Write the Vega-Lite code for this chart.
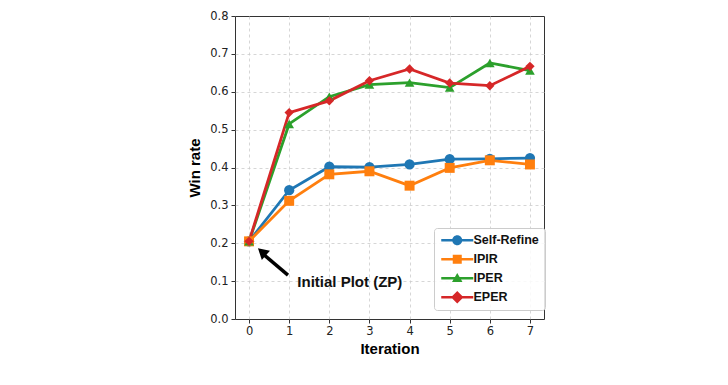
{
  "$schema": "https://vega.github.io/schema/vega-lite/v6.json",
  "autosize": {"type": "none"},
  "padding": {"left": 235, "top": 16, "right": 184, "bottom": 66},
  "width": 309,
  "height": 303,
  "background": "white",
  "config": {
    "view": {"stroke": "#333333", "strokeWidth": 1},
    "axis": {
      "domain": false,
      "grid": true,
      "gridDash": [3, 3],
      "gridColor": "#cccccc",
      "gridWidth": 0.8,
      "tickColor": "#333333",
      "tickSize": 4,
      "labelOverlap": false,
      "labelFont": "DejaVu Sans",
      "labelFontSize": 11.5,
      "labelColor": "#222222",
      "titleFont": "Liberation Sans",
      "titleFontSize": 15,
      "titleFontWeight": "bold",
      "titleColor": "#000000"
    },
    "legend": {
      "title": null,
      "orient": "none",
      "legendX": 199,
      "legendY": 212,
      "padding": 6,
      "symbolSize": 100,
      "symbolOffset": 11,
      "labelOffset": 10,
      "rowPadding": 6,
      "labelFont": "Liberation Sans",
      "labelFontWeight": "bold",
      "labelFontSize": 12.5,
      "labelColor": "#111111",
      "strokeColor": "#cccccc",
      "fillColor": "rgba(255,255,255,0.85)",
      "cornerRadius": 3,
      "symbolStrokeWidth": 0
    }
  },
  "datasets": {
    "series": [
      {"series": "Self-Refine", "iteration": 0, "win": 0.205},
      {"series": "Self-Refine", "iteration": 1, "win": 0.340},
      {"series": "Self-Refine", "iteration": 2, "win": 0.402},
      {"series": "Self-Refine", "iteration": 3, "win": 0.401},
      {"series": "Self-Refine", "iteration": 4, "win": 0.408},
      {"series": "Self-Refine", "iteration": 5, "win": 0.422},
      {"series": "Self-Refine", "iteration": 6, "win": 0.423},
      {"series": "Self-Refine", "iteration": 7, "win": 0.425},
      {"series": "IPIR", "iteration": 0, "win": 0.205},
      {"series": "IPIR", "iteration": 1, "win": 0.312},
      {"series": "IPIR", "iteration": 2, "win": 0.382},
      {"series": "IPIR", "iteration": 3, "win": 0.390},
      {"series": "IPIR", "iteration": 4, "win": 0.352},
      {"series": "IPIR", "iteration": 5, "win": 0.399},
      {"series": "IPIR", "iteration": 6, "win": 0.419},
      {"series": "IPIR", "iteration": 7, "win": 0.408},
      {"series": "IPER", "iteration": 0, "win": 0.205},
      {"series": "IPER", "iteration": 1, "win": 0.515},
      {"series": "IPER", "iteration": 2, "win": 0.587},
      {"series": "IPER", "iteration": 3, "win": 0.619},
      {"series": "IPER", "iteration": 4, "win": 0.624},
      {"series": "IPER", "iteration": 5, "win": 0.611},
      {"series": "IPER", "iteration": 6, "win": 0.676},
      {"series": "IPER", "iteration": 7, "win": 0.656},
      {"series": "EPER", "iteration": 0, "win": 0.205},
      {"series": "EPER", "iteration": 1, "win": 0.545},
      {"series": "EPER", "iteration": 2, "win": 0.576},
      {"series": "EPER", "iteration": 3, "win": 0.629},
      {"series": "EPER", "iteration": 4, "win": 0.660},
      {"series": "EPER", "iteration": 5, "win": 0.623},
      {"series": "EPER", "iteration": 6, "win": 0.616},
      {"series": "EPER", "iteration": 7, "win": 0.667}
    ]
  },
  "resolve": {"scale": {"shape": "independent", "size": "independent", "color": "independent"}},
  "layer": [
    {
      "data": {"name": "series"},
      "mark": {"type": "line", "strokeWidth": 2.8},
      "encoding": {
        "x": {"field": "iteration", "type": "quantitative",
              "scale": {"domain": [-0.35, 7.35], "nice": false, "zero": false},
              "axis": {"values": [0, 1, 2, 3, 4, 5, 6, 7], "format": "d", "title": "Iteration", "labelPadding": 2, "titlePadding": 5, "labelOverlap": false}},
        "y": {"field": "win", "type": "quantitative",
              "scale": {"domain": [0, 0.8], "nice": false, "zero": false},
              "axis": {"values": [0, 0.1, 0.2, 0.3, 0.4, 0.5, 0.6, 0.7, 0.8], "format": ".1f", "title": "Win rate", "labelPadding": 3, "titlePadding": 7, "labelOverlap": false,
                       "gridOpacity": {"condition": {"test": "datum.value <= 0.001 || datum.value >= 0.799", "value": 0}, "value": 1}}},
        "color": {"field": "series", "type": "nominal",
                  "scale": {"domain": ["Self-Refine", "IPIR", "IPER", "EPER"], "range": ["#1f77b4", "#ff7f0e", "#2ca02c", "#d62728"]},
                  "legend": null},
        "detail": {"field": "series"}
      }
    },
    {
      "data": {"name": "series"},
      "mark": {"type": "point", "filled": true, "opacity": 1},
      "encoding": {
        "x": {"field": "iteration", "type": "quantitative",
              "axis": {"values": [0, 1, 2, 3, 4, 5, 6, 7], "format": "d", "title": "Iteration", "labelPadding": 2, "titlePadding": 5, "labelOverlap": false}},
        "y": {"field": "win", "type": "quantitative",
              "axis": {"values": [0, 0.1, 0.2, 0.3, 0.4, 0.5, 0.6, 0.7, 0.8], "format": ".1f", "title": "Win rate", "labelPadding": 3, "titlePadding": 7, "labelOverlap": false,
                       "gridOpacity": {"condition": {"test": "datum.value <= 0.001 || datum.value >= 0.799", "value": 0}, "value": 1}}},
        "color": {"field": "series", "type": "nominal",
                  "scale": {"domain": ["Self-Refine", "IPIR", "IPER", "EPER"], "range": ["#1f77b4", "#ff7f0e", "#2ca02c", "#d62728"]},
                  "legend": null},
        "shape": {"field": "series", "type": "nominal",
                  "scale": {"domain": ["Self-Refine", "IPIR", "IPER", "EPER"], "range": ["circle", "square", "triangle-up", "diamond"]},
                  "legend": null},
        "size": {"field": "series", "type": "ordinal",
                 "scale": {"domain": ["Self-Refine", "IPIR", "IPER", "EPER"], "range": [105, 88, 125, 155]},
                 "legend": null}
      }
    },
    {
      "data": {"name": "series"},
      "mark": {"type": "point", "filled": true, "clip": true, "size": 100, "opacity": 1},
      "encoding": {
        "x": {"field": "iteration", "type": "quantitative",
              "axis": {"values": [0, 1, 2, 3, 4, 5, 6, 7], "format": "d", "title": "Iteration", "labelPadding": 2, "titlePadding": 5, "labelOverlap": false}},
        "y": {"datum": -1, "type": "quantitative",
              "axis": {"values": [0, 0.1, 0.2, 0.3, 0.4, 0.5, 0.6, 0.7, 0.8], "format": ".1f", "title": "Win rate", "labelPadding": 3, "titlePadding": 7, "labelOverlap": false,
                       "gridOpacity": {"condition": {"test": "datum.value <= 0.001 || datum.value >= 0.799", "value": 0}, "value": 1}}},
        "color": {"field": "series", "type": "nominal",
                  "scale": {"domain": ["Self-Refine", "IPIR", "IPER", "EPER"], "range": ["#1f77b4", "#ff7f0e", "#2ca02c", "#d62728"]},
                  "legend": {"title": null}},
        "shape": {"field": "series", "type": "nominal",
                  "scale": {"domain": ["Self-Refine", "IPIR", "IPER", "EPER"],
                            "range": [
                              "M-3.2,-0.27H3.2V0.27H-3.2Z M-1,0A1,1,0,1,1,1,0A1,1,0,1,1,-1,0Z",
                              "M-3.2,-0.27H3.2V0.27H-3.2Z M-0.9,-0.9H0.9V0.9H-0.9Z",
                              "M-3.2,-0.27H3.2V0.27H-3.2Z M0,-1.05L1.05,0.75L-1.05,0.75Z",
                              "M-3.2,-0.27H3.2V0.27H-3.2Z M0,-1.25L1.25,0L0,1.25L-1.25,0Z"
                            ]},
                  "legend": {"title": null}}
      }
    },
    {
      "data": {"values": [{"x": 0.97, "y": 0.116, "x2": 0.30, "y2": 0.176}]},
      "mark": {"type": "rule", "color": "black", "strokeWidth": 3.5},
      "encoding": {
        "x": {"field": "x", "type": "quantitative",
              "axis": {"values": [0, 1, 2, 3, 4, 5, 6, 7], "format": "d", "title": "Iteration", "labelPadding": 2, "titlePadding": 5, "labelOverlap": false}},
        "y": {"field": "y", "type": "quantitative",
              "axis": {"values": [0, 0.1, 0.2, 0.3, 0.4, 0.5, 0.6, 0.7, 0.8], "format": ".1f", "title": "Win rate", "labelPadding": 3, "titlePadding": 7, "labelOverlap": false,
                       "gridOpacity": {"condition": {"test": "datum.value <= 0.001 || datum.value >= 0.799", "value": 0}, "value": 1}}},
        "x2": {"field": "x2"},
        "y2": {"field": "y2"}
      }
    },
    {
      "data": {"values": [{"x": 0.321, "y": 0.1774}]},
      "mark": {"type": "point", "shape": "triangle-up", "filled": true, "color": "black", "size": 150, "angle": 311.7, "opacity": 1},
      "encoding": {
        "x": {"field": "x", "type": "quantitative",
              "axis": {"values": [0, 1, 2, 3, 4, 5, 6, 7], "format": "d", "title": "Iteration", "labelPadding": 2, "titlePadding": 5, "labelOverlap": false}},
        "y": {"field": "y", "type": "quantitative",
              "axis": {"values": [0, 0.1, 0.2, 0.3, 0.4, 0.5, 0.6, 0.7, 0.8], "format": ".1f", "title": "Win rate", "labelPadding": 3, "titlePadding": 7, "labelOverlap": false,
                       "gridOpacity": {"condition": {"test": "datum.value <= 0.001 || datum.value >= 0.799", "value": 0}, "value": 1}}}
      }
    },
    {
      "data": {"values": [{"x": 1.204, "y": 0.0985, "label": "Initial Plot (ZP)"}]},
      "mark": {"type": "text", "align": "left", "baseline": "middle", "font": "Liberation Sans", "fontWeight": "bold", "fontSize": 15, "color": "#111111"},
      "encoding": {
        "x": {"field": "x", "type": "quantitative",
              "axis": {"values": [0, 1, 2, 3, 4, 5, 6, 7], "format": "d", "title": "Iteration", "labelPadding": 2, "titlePadding": 5, "labelOverlap": false}},
        "y": {"field": "y", "type": "quantitative",
              "axis": {"values": [0, 0.1, 0.2, 0.3, 0.4, 0.5, 0.6, 0.7, 0.8], "format": ".1f", "title": "Win rate", "labelPadding": 3, "titlePadding": 7, "labelOverlap": false,
                       "gridOpacity": {"condition": {"test": "datum.value <= 0.001 || datum.value >= 0.799", "value": 0}, "value": 1}}},
        "text": {"field": "label"}
      }
    }
  ]
}
